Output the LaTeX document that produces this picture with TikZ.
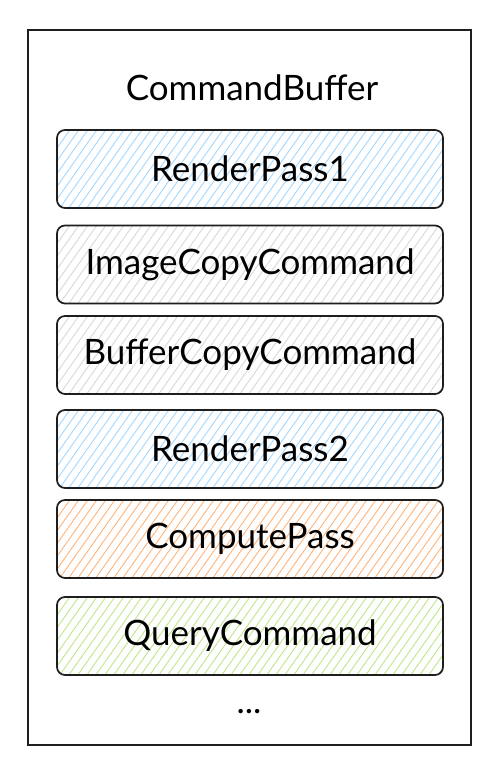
\documentclass[tikz,border=0pt]{standalone}
\usepackage{fontspec}
\setmainfont{Lato}
\usetikzlibrary{calc}
\definecolor{ink}{HTML}{1E1E1E}
\definecolor{hblue}{HTML}{A5D8FF}
\definecolor{hgray}{HTML}{D9D9D9}
\definecolor{horange}{HTML}{FFB47A}
\definecolor{hgreen}{HTML}{BDE88A}
\tikzset{
  cmdbox/.style={draw=ink, line width=1.7pt, rounded corners=8pt,
    minimum width=386pt, minimum height=78pt, inner sep=0pt,
    font=\fontsize{35}{42}\selectfont, text=black,
    path picture={
      \foreach \i in {-90,-81,...,390}{
        \draw[#1, line width=0.9pt]
          ($(path picture bounding box.south west)+(\i pt,-4pt)$) -- ++(62pt,88pt);
      }
    }},
  outer/.style={draw=ink, line width=1.6pt},
  label/.style={font=\fontsize{35}{42}\selectfont, text=black}
}
\begin{document}
\begin{tikzpicture}[x=1pt,y=1pt]
\useasboundingbox (0,0) rectangle (499,784);
\fill[white] (0,0) rectangle (499,784);
\node[outer, minimum width=443pt, minimum height=715pt, inner sep=0pt] (buf) at (249.5,396.5) {};
\node[label] (title) at (252,696) {CommandBuffer};
\node[cmdbox=hblue] (rp1) at (250,615) {RenderPass1};
\node[cmdbox=hgray] (icc) at (250,519.5) {ImageCopyCommand};
\node[cmdbox=hgray] (bcc) at (250,429) {BufferCopyCommand};
\node[cmdbox=hblue] (rp2) at (250,335) {RenderPass2};
\node[cmdbox=horange] (cp) at (250,245) {ComputePass};
\node[cmdbox=hgreen] (qc) at (250,148) {QueryCommand};
\node[label] (dots) at (249,72) {...};
\end{tikzpicture}
\end{document}
